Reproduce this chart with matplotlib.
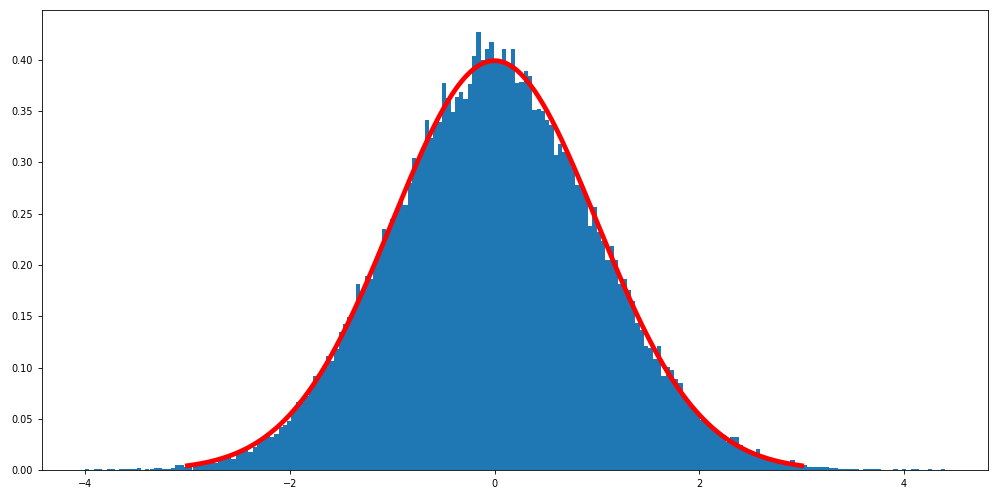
import numpy as np
import matplotlib
matplotlib.use("Agg")
import matplotlib.pyplot as plt

# Histogram: 200 bins from -4.0 to 4.4 (density values)
bin_start = -4.0
bin_stop = 4.4
n_bins = 200
heights = [
    0.0012, 0.0, 0.0012, 0.0012, 0.0, 0.0012, 0.0012, 0.0, 0.0012, 0.0012,
    0.0012, 0.0012, 0.0024, 0.0, 0.0012, 0.0012, 0.0024, 0.0024, 0.0012, 0.0012,
    0.0024, 0.0048, 0.0055, 0.0036, 0.0042, 0.0048, 0.0060, 0.0072, 0.0072, 0.0084,
    0.0075, 0.0108, 0.0120, 0.0132, 0.0107, 0.0168, 0.0180, 0.0204, 0.0175, 0.0227,
    0.0276, 0.0300, 0.0336, 0.0324, 0.0350, 0.0420, 0.0438, 0.0480, 0.0580, 0.0660,
    0.0660, 0.0720, 0.0800, 0.0915, 0.0940, 0.0990, 0.1110, 0.1060, 0.1180, 0.1346,
    0.1420, 0.1490, 0.1550, 0.1817, 0.1736, 0.1888, 0.1860, 0.2020, 0.2130, 0.2345,
    0.2310, 0.2450, 0.2530, 0.2620, 0.2580, 0.2800, 0.3040, 0.3020, 0.3110, 0.3413,
    0.3240, 0.3370, 0.3390, 0.3773, 0.3630, 0.3490, 0.3640, 0.3680, 0.3620, 0.3760,
    0.4030, 0.4270, 0.4000, 0.4100, 0.4175, 0.4010, 0.3980, 0.4100, 0.3935, 0.4100,
    0.3770, 0.3780, 0.3890, 0.3840, 0.3510, 0.3520, 0.3500, 0.3410, 0.3360, 0.3070,
    0.3180, 0.3100, 0.3050, 0.2950, 0.2780, 0.2790, 0.2680, 0.2375, 0.2560, 0.2320,
    0.2230, 0.2044, 0.2180, 0.2050, 0.1817, 0.1860, 0.1760, 0.1650, 0.1434, 0.1370,
    0.1207, 0.1190, 0.1087, 0.1207, 0.0915, 0.1005, 0.0980, 0.0890, 0.0850, 0.0720,
    0.0660, 0.0600, 0.0535, 0.0490, 0.0470, 0.0438, 0.0400, 0.0360, 0.0340, 0.0276,
    0.0324, 0.0324, 0.0243, 0.0220, 0.0178, 0.0178, 0.0204, 0.0130, 0.0110, 0.0100,
    0.0090, 0.0080, 0.0090, 0.0065, 0.0104, 0.0036, 0.0060, 0.0048, 0.0036, 0.0036,
    0.0036, 0.0036, 0.0036, 0.0024, 0.0024, 0.0012, 0.0012, 0.0012, 0.0012, 0.0012,
    0.0, 0.0012, 0.0012, 0.0012, 0.0012, 0.0, 0.0, 0.0, 0.0012, 0.0,
    0.0012, 0.0, 0.0012, 0.0012, 0.0, 0.0, 0.0012, 0.0, 0.0, 0.0012,
]

# Normal curve parameters and range
mu = 0.0
sigma = 1.0
curve_start = -3.0
curve_stop = 3.0

edges = np.linspace(bin_start, bin_stop, n_bins + 1)

fig = plt.figure(figsize=(10, 4.96), dpi=100)
ax = fig.add_axes([0.042, 0.052, 0.946, 0.928])

ax.hist(edges[:-1], bins=edges, weights=heights, color="#1f77b4")

xs = np.linspace(curve_start, curve_stop, 400)
pdf = np.exp(-0.5 * ((xs - mu) / sigma) ** 2) / (sigma * np.sqrt(2 * np.pi))
ax.plot(xs, pdf, color="red", linewidth=3.4)

ax.set_yticks([0.0, 0.05, 0.10, 0.15, 0.20, 0.25, 0.30, 0.35, 0.40])
ax.set_yticklabels(["0.00", "0.05", "0.10", "0.15", "0.20", "0.25", "0.30", "0.35", "0.40"])
ax.set_xticks([-4, -2, 0, 2, 4])
ax.set_xticklabels(["\u22124", "\u22122", "0", "2", "4"])
ax.tick_params(labelsize=7, length=3, width=0.6)
for s in ax.spines.values():
    s.set_linewidth(0.6)

fig.savefig("out.png", dpi=100)
